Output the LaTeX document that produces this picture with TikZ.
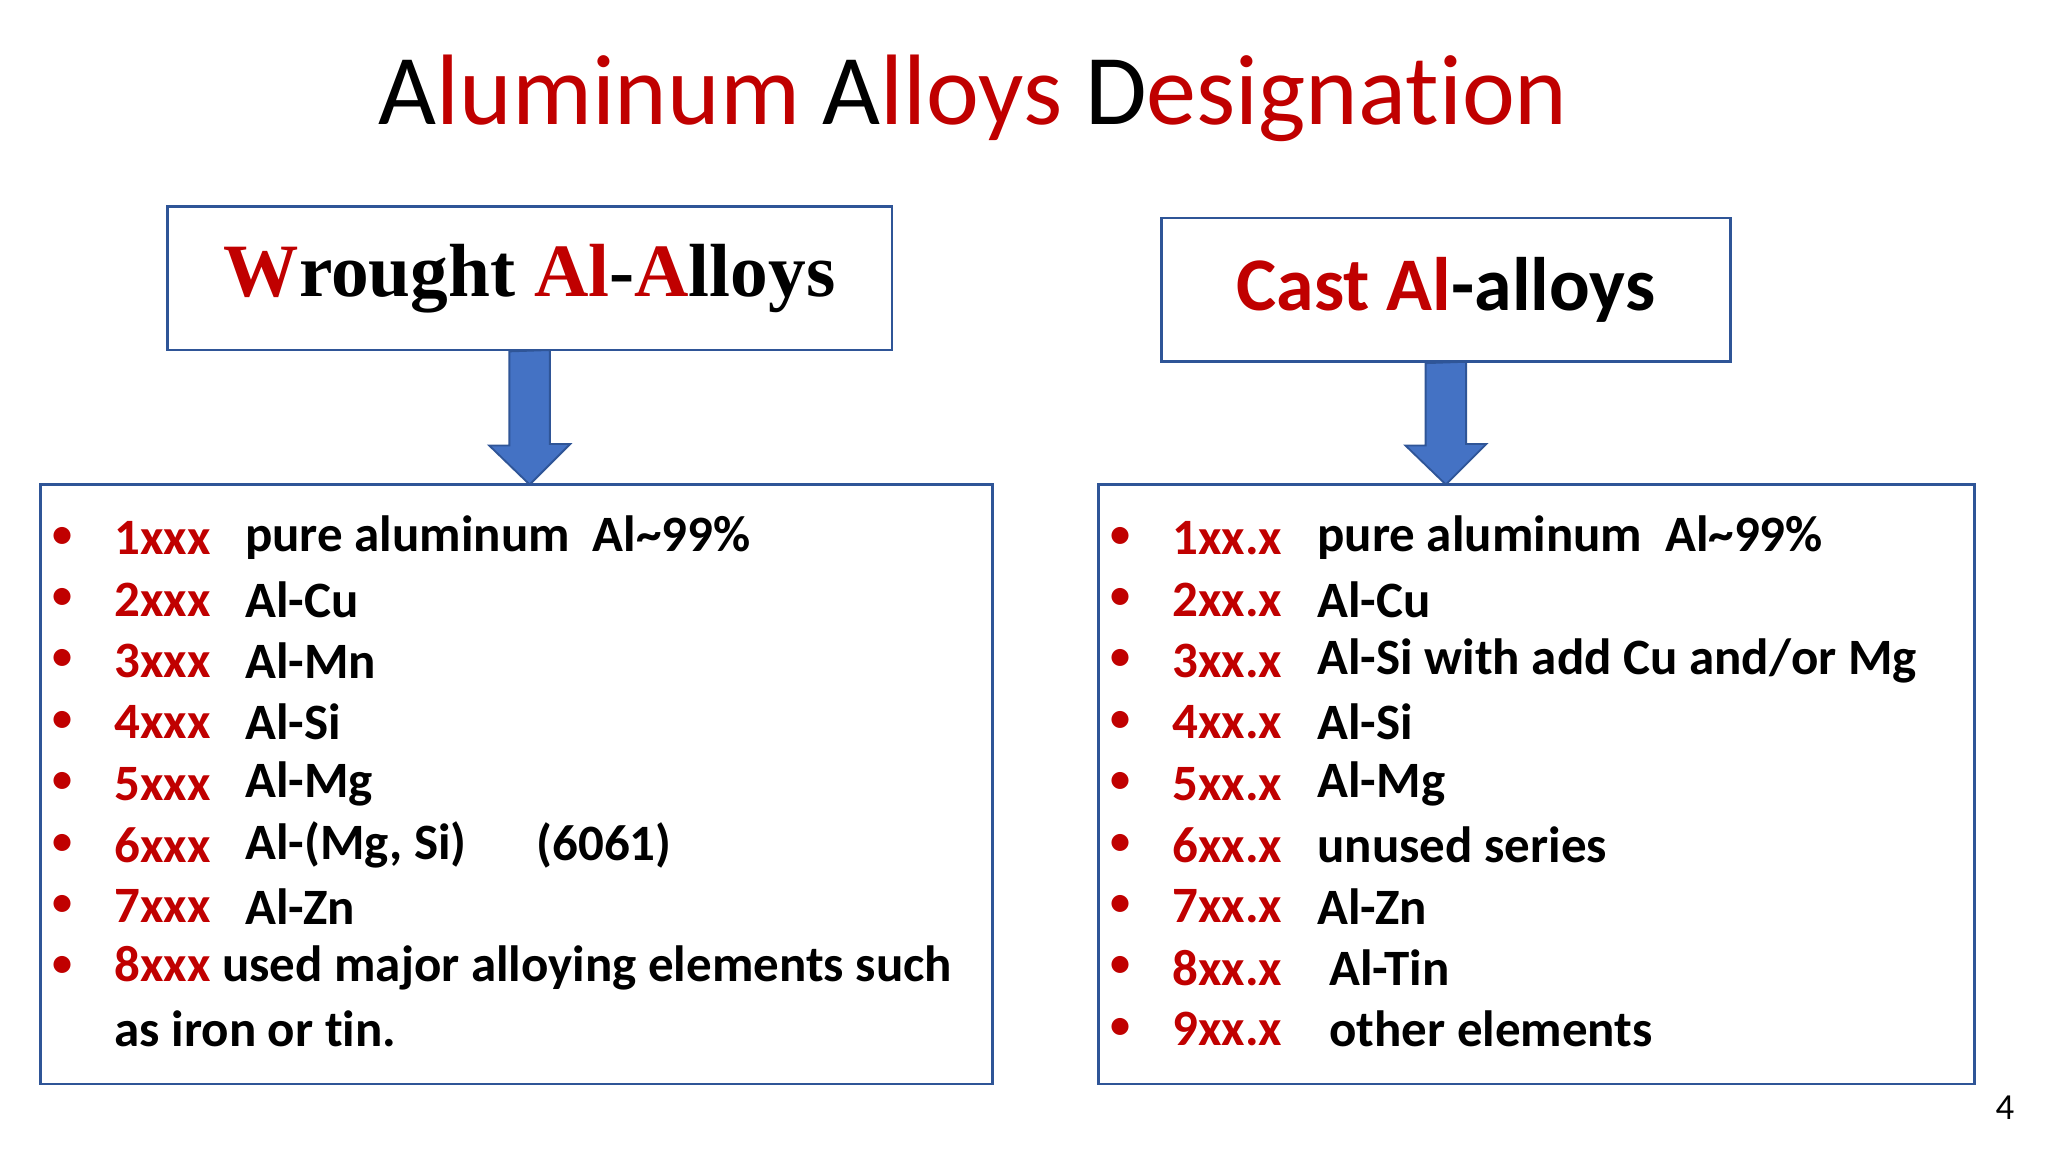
\documentclass[tikz,border=0pt]{standalone}
\usepackage{fontspec}
\setmainfont{Carlito}[Ligatures=NoCommon]
\newfontfamily\timesf{Liberation Serif}
\definecolor{dred}{HTML}{C00000}
\definecolor{ablue}{HTML}{4472C4}
\definecolor{bblue}{HTML}{2F5597}
\begin{document}
\begin{tikzpicture}[x=0.01cm,y=-0.01cm,
  frame/.style={draw=bblue,line width=0.6pt},
  itm/.style={anchor=west,font=\bfseries\fontsize{11.1}{13}\selectfont,inner sep=0pt},
  code/.style={itm,text=dred},
  bul/.style={anchor=center,text=dred,font=\fontsize{10.5}{13}\selectfont,inner sep=0pt},
  barrow/.style={fill=ablue,draw=bblue,line width=0.4pt}]
\useasboundingbox (0,0) rectangle (1568,882);
\node (title) at (745,75) {\fontsize{21.8}{26}\selectfont A\textcolor{dred}{luminum} A\textcolor{dred}{lloys} D\textcolor{dred}{esignation}};
\node[frame,minimum width=555*0.01cm,minimum height=110*0.01cm] (wb) at (405.5,213) {\timesf\bfseries\fontsize{16.4}{20}\selectfont\textcolor{dred}{W}rought \textcolor{dred}{Al}-\textcolor{dred}{A}lloys};
\node[frame,minimum width=436*0.01cm,minimum height=110*0.01cm] (cb) at (1107,222) {\bfseries\fontsize{16.5}{20}\selectfont\textcolor{dred}{Cast Al}-alloys};
\node[frame,minimum width=729*0.01cm,minimum height=459*0.01cm,inner sep=0pt] (lb) at (395.5,600.5) {};
\node[frame,minimum width=671*0.01cm,minimum height=459*0.01cm,inner sep=0pt] (rb) at (1176.5,600.5) {};
\coordinate (ltip) at (405.5,371);
\coordinate (rtip) at (1107,371);
\draw[barrow] (wb.south) ++(-15.5,0) -- ++(0,72) -- ++(-15.5,0) -- (ltip) -- ++(31,-31) -- ++(-15.5,0) -- ++(0,-72) -- cycle;
\draw[barrow] (cb.south) ++(-15.5,0) -- ++(0,63) -- ++(-15.5,0) -- (rtip) -- ++(31,-31) -- ++(-15.5,0) -- ++(0,-63) -- cycle;
\foreach \i/\c/\t [count=\n from 0] in {1/1xxx/pure aluminum\ \ Al\textasciitilde99\%,2/2xxx/Al-Cu,3/3xxx/Al-Mn,4/4xxx/Al-Si,5/5xxx/Al-Mg,6/6xxx/Al-(Mg{,} Si),7/7xxx/Al-Zn}{
  \node[bul] (lbul\i) at (48,412+47*\n) {•};
  \node[code] (lc\i) at (87,412+47*\n) {\c};
  \node[itm] (lt\i) at (187,412+47*\n) {\t};
}
\node[itm] (l6b) at (410,647) {(6061)};
\node[bul] (lbul8) at (48,741) {•};
\node[itm] (l8) at (87,741) {\textcolor{dred}{8xxx} used major alloying elements such};
\node[itm] (l8b) at (87,788) {as iron or tin.};
\foreach \i/\c/\t/\xx [count=\n from 0] in {1/1xx.x/pure aluminum\ \ Al\textasciitilde99\%/1008,2/2xx.x/Al-Cu/1008,3/3xx.x/Al-Si with add Cu and\slash or Mg/1008,4/4xx.x/Al-Si/1008,5/5xx.x/Al-Mg/1008,6/6xx.x/unused series/1008,7/7xx.x/Al-Zn/1008,8/8xx.x/Al-Tin/1017,9/9xx.x/other elements/1017}{
  \node[bul] (rbul\i) at (858,412+47*\n) {•};
  \node[code] (rc\i) at (897,412+47*\n) {\c};
  \node[itm] (rt\i) at (\xx,412+47*\n) {\t};
}
\node (pg) at (1535,848) {\fontsize{8}{9}\selectfont 4};
\end{tikzpicture}
\end{document}
